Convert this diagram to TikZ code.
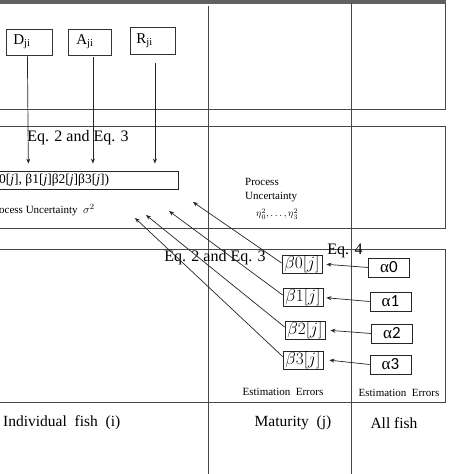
\documentclass[tikz,border=0pt]{standalone}
\usepackage{fontspec}
\setmainfont{Liberation Serif}
\newfontfamily\carl{Carlito}
\usetikzlibrary{arrows.meta}
\begin{document}
\begin{tikzpicture}[x=1pt,y=-1pt,
  panel/.style={draw=black!72, line width=0.9pt},
  vbox/.style={draw=black!80, line width=0.8pt, inner ysep=0pt, minimum height=26pt, align=left, font=\fontsize{15}{15}\selectfont},
  bbox/.style={draw=black!85, line width=0.8pt, inner sep=0pt, minimum width=40pt, minimum height=18pt, font=\fontsize{18}{18}\selectfont},
  abox/.style={draw=black!85, line width=0.8pt, inner sep=0pt, minimum width=41pt, minimum height=19pt, font=\fontsize{17}{17}\selectfont},
  arr/.style={-{Stealth[length=5pt,width=4pt]}, line width=0.7pt, draw=black!85},
  eq/.style={font=\fontsize{16}{16}\selectfont, inner sep=0pt},
  small/.style={font=\fontsize{11}{11}\selectfont, inner sep=0pt},
  big/.style={font=\fontsize{15.5}{15.5}\selectfont, inner sep=0pt}
]
\useasboundingbox (0,0) rectangle (474,474);
\clip (0,0) rectangle (474,474);
\fill[white] (0,0) rectangle (474,474);

% panels
\fill[black!62] (0,0) rectangle (445.5,3.5);
\draw[panel] (445,3) -- (445,109) -- (-2,109);
\draw[panel] (-2,126) -- (445,126) -- (445,228) -- (-2,228);
\draw[panel] (-2,249) -- (445,249) -- (445,402) -- (-2,402);
\draw[panel] (208.5,6) -- (208.5,476);
\draw[panel] (351,3) -- (351,476);

% top boxes
\node[vbox, anchor=west, inner xsep=7pt, text width=32pt] (D) at (6,42) {D\textsubscript{ji}};
\node[vbox, anchor=west, inner xsep=8pt, text width=27pt] (A) at (68,42) {A\textsubscript{ji}};
\node[vbox, anchor=west, inner xsep=6pt, text width=33pt, minimum height=27pt] (R) at (130,40.5) {R\textsubscript{ji}};

% long box
\node[draw=black!85, line width=0.8pt, minimum width=238pt, minimum height=18pt, inner sep=0pt] (F) at (59,180) {};
\node[anchor=west, inner sep=0pt, font=\fontsize{13.5}{13.5}\selectfont] (Ft) at (-1,180.5) {0[\textit{j}], β1[\textit{j}]β2[\textit{j}]β3[\textit{j}])};

\node[eq] (E1) at (78,138) {Eq. 2 and Eq. 3};
\node[small, anchor=west] (PU) at (-1,210) {ocess Uncertainty\ \ $\sigma^2$};

\draw[arr, shorten <=1pt, shorten >=7pt] ([xshift=-2pt]D.south) -- ([xshift=-1pt]D.south |- F.north);
\draw[arr, shorten <=2pt, shorten >=7pt] ([xshift=3pt]A.south) -- ([xshift=3pt]A.south |- F.north);
\draw[arr, shorten <=9pt, shorten >=7pt] ([xshift=2pt]R.south) -- ([xshift=2pt]R.south |- F.north);

\node[small, anchor=west] (PE1) at (245,182) {Process};
\node[small, anchor=west] (PE2) at (245,197) {Uncertainty};
\node[anchor=west, inner sep=0pt, font=\fontsize{10}{10}\selectfont] (PE3) at (256,214) {$\eta\mathstrut^{2}_{0},\ldots,\eta\mathstrut^{2}_{3}$};

% panel 3
\node[eq] (E2) at (215,258) {Eq. 2 and Eq. 3};
\node[eq] (E4) at (345,251) {Eq. 4};

\node[bbox] (b0) at (302,264) {$\beta 0[j]$};
\node[bbox] (b1) at (303,297.5) {$\beta 1[j]$};
\node[bbox] (b2) at (305,330) {$\beta 2[j]$};
\node[bbox] (b3) at (303,360.5) {$\beta 3[j]$};

\node[abox] (a0) at (389,267.5) {α{\carl 0}};
\node[abox] (a1) at (390.5,301.5) {α{\carl 1}};
\node[abox] (a2) at (392,333.5) {α{\carl 2}};
\node[abox] (a3) at (390.5,364.5) {α{\carl 3}};

\draw[arr, shorten >=4pt] (a0.west) -- (b0.east);
\draw[arr, shorten >=3pt] (a1.west) -- (b1.east);
\draw[arr, shorten >=5pt] (a2.west) -- (b2.east);
\draw[arr, shorten >=6pt] (a3.west) -- ([yshift=1pt]b3.east);

\coordinate (p0) at (193,202);
\coordinate (p1) at (169,211);
\coordinate (p2) at (146,215);
\coordinate (p3) at (135,218);
\draw[arr] ([yshift=1pt]b0.west) -- (p0);
\draw[arr] ([yshift=2.5pt]b1.west) -- (p1);
\draw[arr] ([yshift=3pt]b2.west) -- (p2);
\draw[arr] ([yshift=4pt]b3.west) -- (p3);

\node[small] (EE1) at (283,392) {Estimation\ \ Errors};
\node[small] (EE2) at (399,393) {Estimation\ \ Errors};

\node[big, anchor=west] (L1) at (3,423) {Individual\ \ fish\ \ (i)};
\node[big] (L2) at (293,423) {Maturity\ \ (j)};
\node[big] (L3) at (394,423) {All fish};
\end{tikzpicture}
\end{document}
